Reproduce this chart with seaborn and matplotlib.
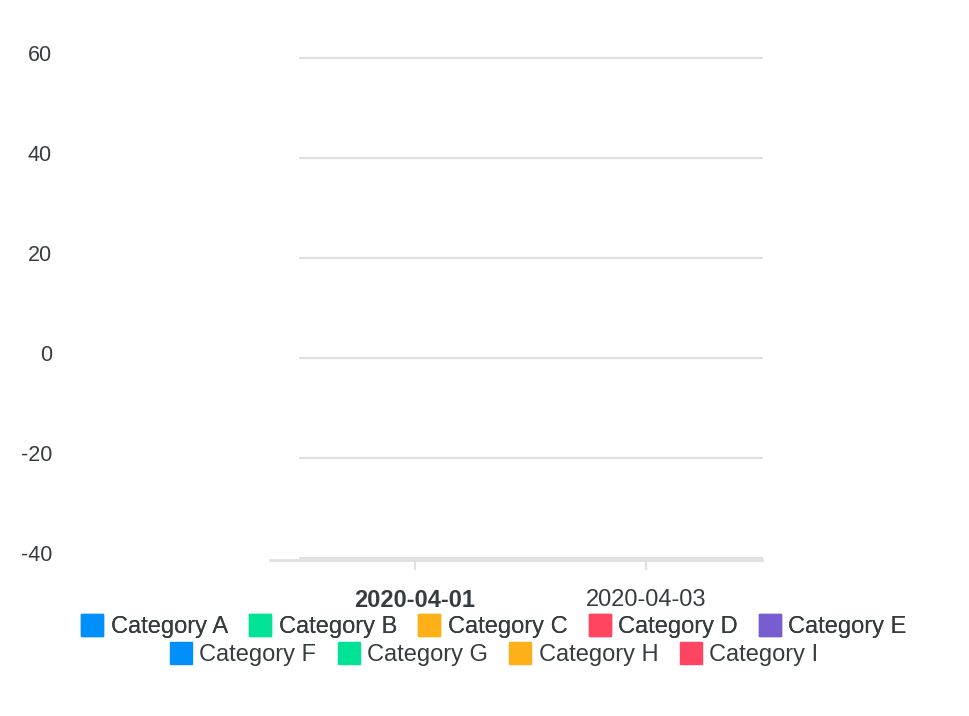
import numpy as np
import pandas as pd
import matplotlib
matplotlib.use('Agg')
import matplotlib.pyplot as plt
import matplotlib.transforms as mtransforms
from matplotlib.lines import Line2D
import seaborn as sns

# Data (the reference chart shows no visible marks, only axes and legend)
dates = ['2020-04-01', '2020-04-02', '2020-04-03']
categories = ['Category A', 'Category B', 'Category C', 'Category D', 'Category E',
              'Category F', 'Category G', 'Category H', 'Category I']
values = {c: [np.nan, np.nan, np.nan] for c in categories}
tick_dates = ['2020-04-01', '2020-04-03']
y_ticks = [-40, -20, 0, 20, 40, 60]
colors = ['#008FFB', '#00E396', '#FEB019', '#FF4560', '#775DD0',
          '#008FFB', '#00E396', '#FEB019', '#FF4560']

rows = []
for c in categories:
    for d, v in zip(dates, values[c]):
        rows.append({'date': pd.Timestamp(d), 'value': v, 'category': c})
df = pd.DataFrame(rows)

sns.set_style('white')
plt.rcParams['font.family'] = ['Liberation Sans', 'DejaVu Sans']
text_color = '#373d3f'
grid_color = '#e0e0e0'

fig = plt.figure(figsize=(9.7, 7.16), dpi=100)
ax = fig.add_axes([270 / 970, 1 - 560 / 716, 492 / 970, 502 / 716])

sns.lineplot(data=df.dropna(), x='date', y='value', hue='category',
             hue_order=categories, palette=colors, legend=False, ax=ax)

d0 = pd.Timestamp(dates[0])
ax.set_xlim(d0 - pd.Timedelta(hours=30), pd.Timestamp(dates[-1]) + pd.Timedelta(hours=24))
ax.set_ylim(-40.4, 60)

for y in y_ticks:
    ax.axhline(y, xmin=30 / 492, xmax=1, color=grid_color, lw=1.6, zorder=0, clip_on=False)

ax.set_yticks(y_ticks)
ax.set_yticklabels([str(v) for v in y_ticks])
ax.tick_params(axis='y', left=False, length=0, pad=157, labelsize=15.5, labelcolor=text_color)
shift_up = mtransforms.ScaledTranslation(0, 5 / 100, fig.dpi_scale_trans)
for lab in ax.get_yticklabels():
    lab.set_transform(lab.get_transform() + shift_up)

ax.set_xticks([pd.Timestamp(t) for t in tick_dates])
ax.set_xticklabels(tick_dates)
ax.tick_params(axis='x', bottom=True, length=7, width=1.5, color=grid_color, pad=14,
               labelsize=17, labelcolor=text_color)
ax.get_xticklabels()[0].set_fontweight('bold')

for s in ['top', 'right', 'left']:
    ax.spines[s].set_visible(False)
ax.spines['bottom'].set_color(grid_color)
ax.spines['bottom'].set_linewidth(2)
ax.set_xlabel('')
ax.set_ylabel('')

# Legend in two centred rows
def make_handles(cols):
    return [Line2D([], [], marker='s', linestyle='', markersize=16,
                   markerfacecolor=col, markeredgecolor=col) for col in cols]

leg_kw = dict(loc='center', frameon=False, fontsize=17, handlelength=0.95,
              handletextpad=0.3, columnspacing=0.9, labelcolor=text_color)
row1, row2 = categories[:5], categories[5:]
leg1 = fig.legend(make_handles(colors[:5]), row1, ncol=5,
                  bbox_to_anchor=(494 / 970, 1 - 627 / 716), **leg_kw)
leg2 = fig.legend(make_handles(colors[5:]), row2, ncol=4,
                  bbox_to_anchor=(494 / 970, 1 - 655 / 716), **leg_kw)
fig.add_artist(leg1)

fig.savefig('out.png', dpi=100)
